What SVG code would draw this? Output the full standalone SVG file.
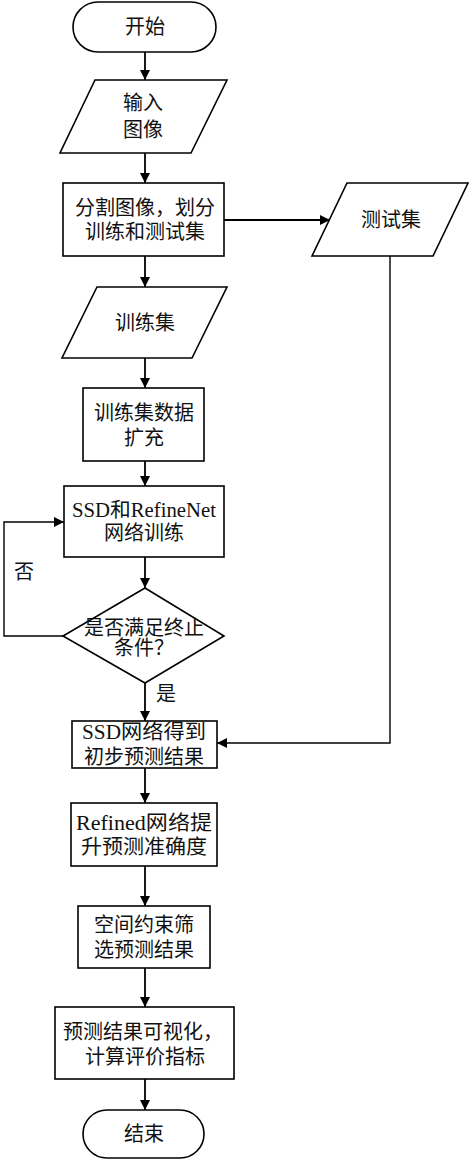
<svg xmlns="http://www.w3.org/2000/svg" width="474" height="1165" viewBox="0 0 474 1165">
<style>
.s{fill:#fff;stroke:#000;stroke-width:1.6}
.c{fill:none;stroke:#000;stroke-width:1.8}
.t{font-family:"Liberation Serif","Noto Sans CJK SC",serif;font-size:20px;fill:#111;text-anchor:middle}
</style>
<defs>
<marker id="a" viewBox="0 0 10 10" refX="10" refY="5" markerWidth="10" markerHeight="10" markerUnits="userSpaceOnUse" orient="auto">
<path d="M0,0 L10,5 L0,10 Z" fill="#000"/>
</marker>
</defs>
<rect width="474" height="1165" fill="#fff"/>
<g id="connectors">
<path class="c" d="M145,52 V80" marker-end="url(#a)"/>
<path class="c" d="M145,153 V183" marker-end="url(#a)"/>
<path class="c" d="M224,220 H330" marker-end="url(#a)"/>
<path class="c" d="M145,256 V287" marker-end="url(#a)"/>
<path class="c" d="M145,358 V388" marker-end="url(#a)"/>
<path class="c" d="M145,461 V486" marker-end="url(#a)"/>
<path class="c" d="M145,557 V588" marker-end="url(#a)"/>
<path class="c" d="M145,683 V721" marker-end="url(#a)"/>
<path class="c" style="stroke-width:1.4" d="M63,636 H4 V522 H64" marker-end="url(#a)"/>
<path class="c" style="stroke-width:1.4" d="M390,256 V743 H217" marker-end="url(#a)"/>
<path class="c" d="M145,768 V803" marker-end="url(#a)"/>
<path class="c" d="M145,866 V906" marker-end="url(#a)"/>
<path class="c" d="M145,968 V1007" marker-end="url(#a)"/>
<path class="c" d="M145,1079 V1110" marker-end="url(#a)"/>
<text class="t" x="24" y="579">否</text>
<text class="t" x="166" y="701">是</text>
</g>
<g id="start">
<rect class="s" x="73" y="2" width="143" height="50" rx="25"/>
<text class="t" x="145" y="34">开始</text>
</g>
<g id="input">
<polygon class="s" points="95,80 227,80 191,153 60,153"/>
<text class="t" x="143" y="110">输入</text>
<text class="t" x="143" y="137">图像</text>
</g>
<g id="split">
<rect class="s" x="63" y="183" width="161" height="73"/>
<text class="t" x="145" y="215">分割图像，划分</text>
<text class="t" x="145" y="239">训练和测试集</text>
</g>
<g id="testset">
<polygon class="s" points="347,183 468,183 433,256 312,256"/>
<text class="t" x="391" y="227">测试集</text>
</g>
<g id="trainset">
<polygon class="s" points="97,287 227,287 192,358 62,358"/>
<text class="t" x="145" y="330">训练集</text>
</g>
<g id="augment">
<rect class="s" x="83" y="388" width="121" height="73"/>
<text class="t" x="144" y="420">训练集数据</text>
<text class="t" x="144" y="445">扩充</text>
</g>
<g id="train">
<rect class="s" x="64" y="486" width="160" height="71"/>
<text class="t" x="144" y="517" textLength="144" lengthAdjust="spacingAndGlyphs">SSD和RefineNet</text>
<text class="t" x="144" y="540">网络训练</text>
</g>
<g id="decision">
<polygon class="s" points="145,588 224,636 145,683 63,636"/>
<text class="t" x="144" y="635">是否满足终止</text>
<text class="t" x="144" y="655">条件？</text>
</g>
<g id="ssd">
<rect class="s" x="72" y="721" width="145" height="47"/>
<text class="t" x="144" y="739" textLength="124" lengthAdjust="spacingAndGlyphs">SSD网络得到</text>
<text class="t" x="144" y="764">初步预测结果</text>
</g>
<g id="refined">
<rect class="s" x="71" y="803" width="146" height="63"/>
<text class="t" x="144" y="830" textLength="136" lengthAdjust="spacingAndGlyphs">Refined网络提</text>
<text class="t" x="144" y="854" textLength="126" lengthAdjust="spacingAndGlyphs">升预测准确度</text>
</g>
<g id="spatial">
<rect class="s" x="78" y="906" width="132" height="62"/>
<text class="t" x="144" y="932">空间约束筛</text>
<text class="t" x="144" y="957">选预测结果</text>
</g>
<g id="visual">
<rect class="s" x="55" y="1007" width="179" height="72"/>
<text class="t" x="143" y="1039">预测结果可视化，</text>
<text class="t" x="145" y="1064">计算评价指标</text>
</g>
<g id="end">
<rect class="s" x="83" y="1110" width="121" height="48" rx="24"/>
<text class="t" x="144" y="1141">结束</text>
</g>
</svg>
